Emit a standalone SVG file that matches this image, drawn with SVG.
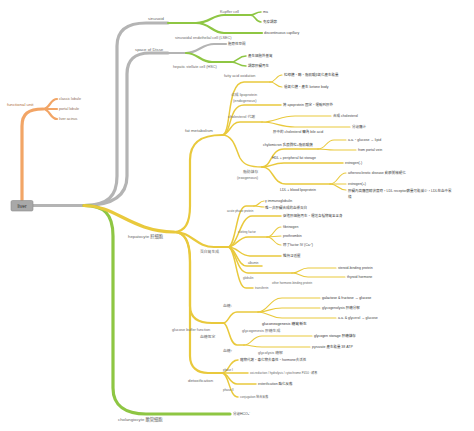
<svg xmlns="http://www.w3.org/2000/svg" width="474" height="431" viewBox="0 0 474 431">
<style>
path{fill:none;stroke-linecap:round}
.g{stroke:#b4b4b4}.gr{stroke:#8ec643}.y{stroke:#e9c93c}.o{stroke:#f2a566}
.w1{stroke-width:3.2}.w2{stroke-width:2.2}.w3{stroke-width:1.5}.w4{stroke-width:1.1}
text{font-family:"Liberation Sans","Noto Sans CJK TC",sans-serif;dominant-baseline:central}
.l1{font-size:4.3px;fill:#666}.l2{font-size:3.8px;fill:#6a6a6a}.lf{font-size:3.5px;fill:#444}.ls{font-size:3px;fill:#666}
.ob{font-size:4.3px;fill:#b07040}.of{font-size:3.7px;fill:#8a6a55}
.bd{fill:#333}
</style>
<rect width="474" height="431" fill="#fff"/>
<g id="connectors">
<path class="g w1" d="M33,205.5 L84,205.5"/>
<path class="g w1" d="M84,205.5 C108,205.5 117,196 117,176 L117,46 C117,30 127,23 146,23 L168,23"/>
<path class="g w1" d="M84,205.5 C113,205.5 127,196 127,176 L127,74 C127,60 134,53 150,53 L168,53"/>
<path class="g w2" d="M168,53 L186,53 C198,53 202,44 214,44 L226,44"/>
<path class="gr w2" d="M168,23 L196,23"/>
<path class="gr w2" d="M196,23 C210,23 212,15 224,15 L250,15"/>
<path class="gr w3" d="M250,15 C256,15 255,12 261,12"/>
<path class="gr w3" d="M250,15 C256,15 255,22 261,22"/>
<path class="gr w2" d="M196,23 C210,23 212,33 224,33 L262,33"/>
<path class="gr w2" d="M186,53 C198,53 200,62 212,62 L231,62"/>
<path class="gr w3" d="M231,62 C238,62 238,56 246,56"/>
<path class="gr w3" d="M231,62 C238,62 238,66 246,66"/>
<path class="gr w1" d="M84,205.5 C104,205.5 113,214 113,236 L113,388 C113,406 126,414 146,414 L230,414"/>
<path class="o w1" d="M22,200 L22,126 C22,114 28,109 43,109"/>
<path class="o w2" d="M43,109 C50,109 50,99 57,99"/>
<path class="o w2" d="M43,109 L57,109"/>
<path class="o w2" d="M43,109 C50,109 50,119 57,119"/>
<path class="y w1" d="M84,205.5 C116,205.5 130,231 174,232"/>
<path class="y w2" d="M174,232 C186,232 190,222 190,206 L190,160 C190,143 200,135 222,135"/>
<path class="y w2" d="M174,232 C192,232 196,247 214,247 L228,247"/>
<path class="y w2" d="M174,232 C186,232 190,244 190,260 L190,306 C190,318 199,323 212,323 L223,323"/>
<path class="y w2" d="M174,232 C186,232 190,244 190,262 L190,356 C190,367 197,373 208,373 L222,373"/>
<path class="y w3" d="M222,135 C232,135 226,82 244,82 L270,82"/>
<path class="y w4" d="M270,82 C276,82 276,75 282,75"/>
<path class="y w4" d="M270,82 C276,82 276,87 282,87"/>
<path class="y w3" d="M222,135 C232,135 228,105 244,105 L281,105"/>
<path class="y w3" d="M222,135 C230,135 230,122 240,122 L262,122"/>
<path class="y w4" d="M262,122 C275,122 280,116 295,116 L331,116"/>
<path class="y w4" d="M262,122 C275,122 280,127 295,127 L350,127"/>
<path class="y w3" d="M222,135 C234,135 236,150 240,158 C244,165 250,167 262,167"/>
<path class="y w3" d="M262,167 C272,167 270,149 284,149 L318,149"/>
<path class="y w4" d="M318,149 C326,149 326,140 334,140 L346,140"/>
<path class="y w4" d="M318,149 C326,149 326,150 334,150 L356,150"/>
<path class="y w3" d="M262,167 C272,167 272,163 284,163 L343,163"/>
<path class="y w3" d="M262,167 C274,167 272,184 286,184 L330,184"/>
<path class="y w4" d="M330,184 C338,184 338,173 346,173"/>
<path class="y w4" d="M330,184 L346,184"/>
<path class="y w4" d="M330,184 C338,184 338,190 346,190"/>
<path class="y w3" d="M228,247 C236,247 236,206 246,206 L254,206"/>
<path class="y w4" d="M254,206 C259,206 259,201 264,201"/>
<path class="y w4" d="M254,206 C259,206 259,207 264,207"/>
<path class="y w3" d="M228,247 C238,247 240,216 252,216 L281,216"/>
<path class="y w3" d="M228,247 C236,247 238,237 248,237 L267,237"/>
<path class="y w4" d="M267,237 C274,237 274,227 281,227"/>
<path class="y w4" d="M267,237 L281,236"/>
<path class="y w4" d="M267,237 C274,237 274,245 281,245"/>
<path class="y w3" d="M228,247 C238,247 240,256 250,256 L281,256"/>
<path class="y w3" d="M228,247 C236,247 237,266 247,266 L262,266"/>
<path class="y w3" d="M228,247 C236,247 236,273 248,273 L292,273"/>
<path class="y w4" d="M292,273 C300,273 300,268 308,268 L336,268"/>
<path class="y w4" d="M292,273 C300,273 300,277 308,277 L345,277"/>
<path class="y w3" d="M228,247 C236,247 236,288 246,288 L253,288"/>
<path class="y w3" d="M223,323 C229,323 229,312 237,312 L258,312"/>
<path class="y w4" d="M258,312 C268,312 270,298 282,298 L320,298"/>
<path class="y w4" d="M258,312 C268,312 270,308 282,308 L320,308"/>
<path class="y w4" d="M258,312 C268,312 270,318 282,318 L336,318"/>
<path class="y w3" d="M223,323 C229,323 229,345 237,345 L244,345"/>
<path class="y w4" d="M244,345 C252,345 252,336 262,336 L312,336"/>
<path class="y w4" d="M244,345 C252,345 252,347 262,347 L310,347"/>
<path class="y w3" d="M222,373 C229,373 229,360 238,360"/>
<path class="y w3" d="M222,373 L248,373"/>
<path class="y w3" d="M222,373 C229,373 229,384 237,384 L256,384"/>
<path class="y w3" d="M222,373 C229,373 229,397 238,397"/>
</g>
<g id="liver"><rect x="11" y="200.5" width="22" height="10.5" rx="1.5" fill="#a8a8a8" stroke="#8a8a8a" stroke-width="0.6"/><text x="22" y="206" text-anchor="middle" font-size="5" fill="#333">liver</text></g>
<g id="functional-unit"><text class="ob" x="7" y="104">functional unit</text></g>
<g id="classic-lobule"><text class="of" x="59" y="99">classic lobule</text></g>
<g id="portal-lobule"><text class="of" x="59" y="109">portal lobule</text></g>
<g id="liver-acinus"><text class="of" x="59" y="119">liver acinus</text></g>
<g id="sinusoid"><text class="l1" x="148" y="18">sinusoid</text></g>
<g id="kupffer"><text class="l2" x="220" y="11.5">Kupffer cell</text></g>
<g id="ma"><text class="lf" x="263" y="12">ma</text></g>
<g id="immune"><text class="lf" x="263" y="22">免疫調節</text></g>
<g id="lsec"><text class="l2" x="175" y="38">sinusoidal endothelial cell (LSEC)</text></g>
<g id="disc-cap"><text class="lf" x="264" y="33">discontinuous capillary</text></g>
<g id="disse"><text class="l1" x="135" y="49">space of Disse</text></g>
<g id="paracell"><text class="lf" x="228" y="44">胞旁性空間</text></g>
<g id="hsc"><text class="l2" x="173" y="67">hepatic stellate cell (HSC)</text></g>
<g id="ecm"><text class="lf" x="248" y="56">產生細胞外基質</text></g>
<g id="regen"><text class="lf" x="248" y="66">調節肝臟再生</text></g>
<g id="hepatocyte"><text class="l1" x="128" y="236.5">hepatocyte 肝細胞</text></g>
<g id="fat-metabolism"><text class="l1" x="185" y="130">fat metabolism</text></g>
<g id="fao"><text class="l2" x="224" y="76">fatty acid oxidation</text></g>
<g id="fao1"><text class="lf" x="284" y="75">粒線體、酶、脂肪酸β氧化產生能量</text></g>
<g id="fao2"><text class="lf" x="284" y="87">過氧化體、產生 ketone body</text></g>
<g id="lipoprotein"><text class="l2" x="231" y="95">合成 lipoprotein</text><text class="l2" x="233" y="101">(endogenous)</text></g>
<g id="apoprotein"><text class="lf" x="283" y="105">將 apoprotein 固定、運輸到肝外</text></g>
<g id="cholesterol"><text class="l2" x="228" y="117">cholesterol 代謝</text></g>
<g id="chol-syn"><text class="lf" x="333" y="116">合成 cholesterol</text></g>
<g id="bile-acid"><text class="lf" x="273" y="132">肝中的 cholesterol 轉為 bile acid</text></g>
<g id="bile"><text class="lf" x="352" y="127">分泌膽汁</text></g>
<g id="fat-storage"><text class="l2" x="243" y="172">脂肪儲存</text><text class="l2" x="237" y="178">(exogenous)</text></g>
<g id="chylomicron"><text class="lf" x="263" y="145">chylomicron 乳糜微粒+脂肪酸鏈</text></g>
<g id="aa-lipid"><text class="lf" x="348" y="140">a.a.、glucose → lipid</text></g>
<g id="portal-vein"><text class="lf" x="358" y="150">from portal vein</text></g>
<g id="hdl"><text class="lf" x="272" y="158">HDL + peripheral fat storage</text></g>
<g id="estrogen-minus"><text class="lf" x="345" y="163">estrogen(-)</text></g>
<g id="ldl"><text class="lf" x="280" y="190">LDL + blood lipoprotein</text></g>
<g id="athero"><text class="lf" x="348" y="173">atherosclerotic disease 動脈粥樣硬化</text></g>
<g id="estrogen-plus"><text class="lf" x="348" y="184">estrogen(+)</text></g>
<g id="ldl-rec"><text class="lf" x="348" y="190.5">肝臟內高膽固醇濃度時，LDL receptor數量可能減少，LDL在血中累</text><text class="lf" x="348" y="196.5">積</text></g>
<g id="protein"><text class="l2" x="200" y="252">蛋白質生成</text></g>
<g id="acute"><text class="ls" x="227" y="210.5">acute phase protein</text></g>
<g id="igg"><text class="lf" x="265" y="201">γ immunoglobulin</text></g>
<g id="igg2"><text class="lf" x="265" y="207.5">唯一非肝臟合成的血漿蛋白</text></g>
<g id="promote"><text class="lf" x="283" y="216">促進肝細胞再生、運送各種物質至全身</text></g>
<g id="clotting"><text class="ls" x="238" y="231.5">clotting factor</text></g>
<g id="fibrinogen"><text class="lf" x="283" y="227">fibrinogen</text></g>
<g id="prothrombin"><text class="lf" x="283" y="236">prothrombin</text></g>
<g id="factor4"><text class="lf" x="283" y="245">除了factor IV (Ca²⁺)</text></g>
<g id="osmotic"><text class="lf" x="283" y="256">維持滲透壓</text></g>
<g id="albumin"><text class="ls" x="248" y="262.5">albumin</text></g>
<g id="globulin"><text class="ls" x="243" y="277.5">globulin</text></g>
<g id="steroid"><text class="lf" x="338" y="268">steroid-binding protein</text></g>
<g id="thyroid"><text class="lf" x="347" y="277">thyroid hormone</text></g>
<g id="other-binding"><text class="ls" x="272" y="283">other hormone-binding protein</text></g>
<g id="transferrin"><text class="ls" x="255" y="288">transferrin</text></g>
<g id="glucose-buffer"><text class="l2" x="172" y="330">glucose buffer function</text><text class="l2" x="200" y="337">血糖恆定</text></g>
<g id="low-sugar"><text class="l2" x="223" y="305.5">血糖↓</text></g>
<g id="galactose"><text class="lf bd" x="322" y="298">galactose &amp; fructose → glucose</text></g>
<g id="glycogenolysis"><text class="lf" x="322" y="308">glycogenolysis 肝糖分解</text></g>
<g id="aa-glycerol"><text class="lf" x="338" y="318">a.a. &amp; glycerol → glucose</text></g>
<g id="gluconeo"><text class="l2 bd" x="262" y="323.5">gluconeogenesis 糖質新生</text></g>
<g id="high-sugar"><text class="l2" x="223" y="351">血糖↑</text></g>
<g id="glycogenesis"><text class="l2" x="242" y="331">glycogenesis 肝糖生成</text></g>
<g id="glycogen-storage"><text class="lf bd" x="314" y="336">glycogen storage 肝糖儲存</text></g>
<g id="glycolysis"><text class="l2" x="258" y="352.5">glycolysis 糖解</text></g>
<g id="pyruvate"><text class="lf" x="312" y="347">pyruvate 產生能量 38 ATP</text></g>
<g id="detox"><text class="l1" x="188" y="380">detoxification</text></g>
<g id="drug"><text class="lf" x="240" y="360">藥物代謝、毒化物去毒性、hormone去活性</text></g>
<g id="phase1"><text class="ls" x="223" y="369.5">phase I</text></g>
<g id="oxired"><text class="ls" x="250" y="373">oxi-reduction / hydrolysis / cytochrome P450 : 酵素</text></g>
<g id="ester"><text class="lf" x="258" y="384">esterification 酯化反應</text></g>
<g id="phase2"><text class="ls" x="223" y="389.5">phase II</text></g>
<g id="conj"><text class="ls" x="240" y="397">conjugation 結合反應</text></g>
<g id="cholangiocyte"><text class="l1" x="118" y="419.5">cholangiocyte 膽管細胞</text></g>
<g id="hco3"><text class="lf" x="233" y="414">分泌HCO₃⁻</text></g>
</svg>
